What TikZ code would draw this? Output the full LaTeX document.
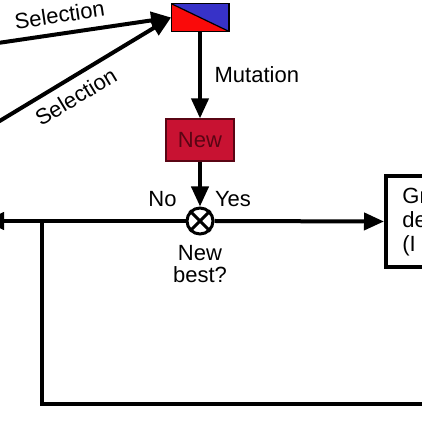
\documentclass[tikz,border=0pt]{standalone}
\usepackage{fontspec}
\setmainfont{Liberation Sans}
\usetikzlibrary{arrows.meta, positioning}
\definecolor{colRed}{RGB}{250,10,10}
\definecolor{colBlue}{RGB}{55,50,200}
\definecolor{colNew}{RGB}{200,18,50}
\definecolor{colNewTxt}{RGB}{90,5,20}

\begin{document}
\begin{tikzpicture}[
  x=0.5pt, y=0.5pt,
  font=\fontsize{11}{11}\selectfont,
  arr/.style={-{Triangle[length=10pt, width=8.5pt]}, line width=2pt},
  wire/.style={line width=2pt},
  parent/.style={minimum width=28.5pt, minimum height=13.5pt, inner sep=0pt},
  child/.style={draw=colNewTxt, fill=colNew, text=colNewTxt, line width=0.6pt,
                minimum width=34pt, minimum height=21pt, inner sep=0pt},
  check/.style={circle, draw, line width=1.5pt, minimum size=13pt, inner sep=0pt},
]
\useasboundingbox (0,0) rectangle (422,422);
\clip (0,0) rectangle (422,422);

% Recombined parents (red / blue halves)
\node[parent] (par) at (200,404.5) {};
\fill[colRed] (par.north west) -- (par.south west) -- (par.south east) -- cycle;
\fill[colBlue] (par.north west) -- (par.north east) -- (par.south east) -- cycle;
\draw[line width=0.6pt] (par.north west) -- (par.south east);
\draw[line width=0.6pt] (par.south west) rectangle (par.north east);

% Selection arrows coming in from the left
\coordinate (selA) at (-2,379);
\coordinate (selB) at (-2,300);
\draw[arr] (selA) -- (par.west) node[pos=0.37, rotate=8.5, above=1pt] (selAlbl) {Selection};
\draw[arr] (selB) -- (par.west) node[pos=0.4, rotate=31, below=1pt] (selBlbl) {Selection};

% Mutation
\node[child] (new) at (200,282) {New};
\draw[arr] (par.south) -- (new.north) node[midway, right=3pt] (mutlbl) {Mutation};

% Decision: new best?
\node[check] (best) at (200,201) {};
\draw[line width=1.5pt] (best.north west) -- (best.south east)
                        (best.north east) -- (best.south west);
\draw[arr] (new.south) -- (best.north);
\node (no) at (162.5,222.5) {No};
\node (yes) at (233,222.5) {Yes};
\node[align=center] (bestlbl) at (200,158) {New\\best?};

% Yes branch
\node[draw, line width=2pt, minimum width=60pt, minimum height=45.5pt, anchor=west] (gd) at (384,200.5) {};
\node[align=left, anchor=west, inner sep=0pt, font=\fontsize{11}{12}\selectfont] (gdtxt) at (402,200) {Gr\\de\\(I};
\draw[arr] (best.east) -- (gd.west);

% No branch
\coordinate (out) at (-16,201);
\draw[arr] (best.west) -- (out);

% Loop back
\coordinate (jn) at (42,201);
\coordinate (loopR) at (440,18);
\draw[wire] (jn) |- (loopR);

\end{tikzpicture}
\end{document}
